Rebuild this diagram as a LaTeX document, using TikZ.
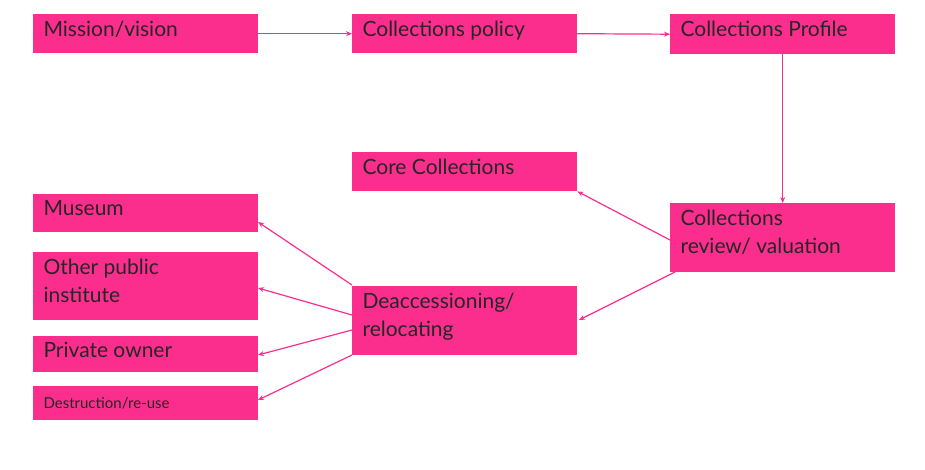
\documentclass[tikz,border=0pt]{standalone}
\usepackage{fontspec}
\setmainfont{Lato}
\usetikzlibrary{arrows.meta}
\definecolor{pk}{HTML}{FB2E8D}
\begin{document}
\begin{tikzpicture}[x=1pt,y=-1pt,
  bx/.style={fill=pk,inner sep=0pt},
  tx/.style={anchor=north west,align=left,font=\fontsize{21}{28}\selectfont,text=black!85},
  ar/.style={draw=pk,line width=1.2pt,-{Stealth[length=6pt,width=5pt]}}]
\useasboundingbox (0,0) rectangle (925,469);
\newcommand\bxx[6]{\fill[pk] (#2,#3) rectangle (#4,#5);
  \node[inner sep=0pt,minimum width=#4pt-#2pt,minimum height=#5pt-#3pt,anchor=north west] (#1) at (#2,#3) {};
  \node[tx] at (#2+7,#3+3) {#6};}
\bxx{mv}{33}{14}{258}{53}{Mission/vision}
\bxx{cp}{352}{14}{577}{53}{Collections policy}
\bxx{pr}{670}{14}{895}{54}{Collections Profile}
\bxx{cc}{352}{152}{577}{191}{Core Collections}
\bxx{rv}{670}{203}{895}{272}{Collections\\review/ valuation}
\bxx{mu}{33}{194}{258}{232}{Museum}
\bxx{op}{33}{252}{258}{320}{Other public\\institute}
\bxx{de}{352}{286}{577}{355}{Deaccessioning/\\relocating}
\bxx{po}{33}{336}{258}{372}{Private owner}
\fill[pk] (33,386) rectangle (258,420);
\node[inner sep=0pt,minimum width=225pt,minimum height=34pt,anchor=north west] (ds) at (33,386) {};
\node[anchor=west,font=\fontsize{15}{18}\selectfont,text=black!85] at (40,403) {Destruction/re-use};
\draw[ar] (mv.east) -- (cp.west);
\draw[ar] (cp.east) -- (pr.west);
\draw[ar] (pr.south) -- (rv.north);
\coordinate (r1) at (670,240); \coordinate (r2) at (675,272);
\draw[ar] (r1) -- (cc.south east);
\draw[ar] (r2) -- (579,320);
\coordinate (d1) at (352,285); \coordinate (d2) at (352,315);
\coordinate (d3) at (352,330); \coordinate (d4) at (352,355);
\draw[ar] (d1) -- (258,222);
\draw[ar] (d2) -- (258,288);
\draw[ar] (d3) -- (258,355);
\draw[ar] (d4) -- (258,400);
\end{tikzpicture}
\end{document}
